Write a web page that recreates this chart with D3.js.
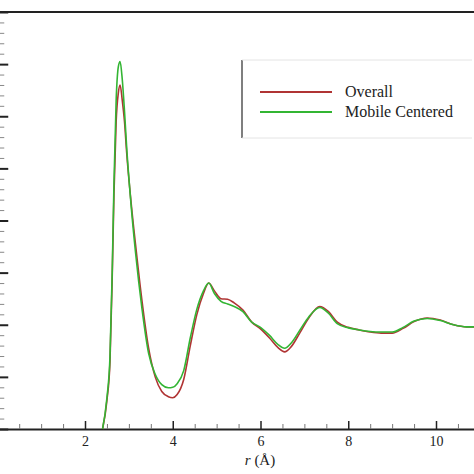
<!DOCTYPE html>
<html lang="en">
<head>
  <meta charset="UTF-8">
  <title>g(r)</title>
  <style>
    body { margin: 0; background: #fff; }
    svg { display: block; }
    text { font-family: "Liberation Serif", "DejaVu Serif", serif; fill: #222; }
  </style>
</head>
<body>
  <svg width="474" height="474"></svg>
  <script src="https://d3js.org/d3.v7.min.js"></script>
  <script>

  // radial distance r (Angstrom)
  var rValues = [2.40, 2.50, 2.57, 2.62, 2.66, 2.71, 2.76, 2.80, 2.85, 2.90, 2.95, 3.05, 3.15, 3.30,
    3.45, 3.60, 3.75, 3.90, 4.00, 4.10, 4.25, 4.40, 4.55, 4.70, 4.82, 4.95, 5.10, 5.25, 5.40, 5.60,
    5.80, 6.00, 6.20, 6.40, 6.55, 6.70, 6.90, 7.10, 7.35, 7.55, 7.75, 8.00, 8.25, 8.50, 8.75, 9.00,
    9.25, 9.50, 9.80, 10.10, 10.40, 10.70, 11.00];

  var overallG = [0, 0.55, 1.3, 2.9, 4.5, 5.9, 6.45, 6.6, 6.3, 5.9, 5.3, 4.35, 3.55, 2.45,
    1.55, 1.0, 0.72, 0.62, 0.60, 0.66, 0.95, 1.6, 2.2, 2.6, 2.8, 2.65, 2.5, 2.49, 2.42, 2.28,
    2.05, 1.92, 1.75, 1.56, 1.48, 1.58, 1.85, 2.13, 2.35, 2.25, 2.05, 1.95, 1.90, 1.86, 1.84, 1.84,
    1.93, 2.06, 2.13, 2.09, 2.00, 1.96, 1.96];

  var mobileG = [0, 0.6, 1.4, 3.0, 4.7, 6.3, 6.95, 7.05, 6.7, 6.1, 5.4, 4.3, 3.4, 2.3,
    1.45, 1.05, 0.85, 0.79, 0.80, 0.87, 1.12, 1.75, 2.3, 2.65, 2.8, 2.6, 2.45, 2.4, 2.35, 2.25,
    2.05, 1.95, 1.8, 1.62, 1.55, 1.65, 1.9, 2.15, 2.33, 2.22, 2.02, 1.94, 1.90, 1.87, 1.86, 1.86,
    1.95, 2.07, 2.12, 2.08, 2.00, 1.96, 1.96];

  var seriesNames = ['Overall', 'Mobile Centered'];
  var seriesColors = ['#b03434', '#33b533'];

  var xMajorTicks = [2, 4, 6, 8, 10];
  var yMajorTicks = [0, 1, 2, 3, 4, 5, 6, 7, 8];

  var svg = d3.select('svg');

  // plot frame is cropped on the left and right in the original
  var x = d3.scaleLinear().domain([0, 12]).range([-2.75, 523.75]);
  var y = d3.scaleLinear().domain([0, 8]).range([429, 12]);

  var xMinor = d3.range(0.5, 12, 0.5).filter(function(v) { return v % 2 !== 0; });
  var yMinor = d3.range(0.2, 8, 0.2).filter(function(v) { return Math.abs(v - Math.round(v)) > 0.01; });

  // top frame line
  svg.append('line')
    .attr('x1', 0).attr('x2', 474)
    .attr('y1', y(8)).attr('y2', y(8))
    .attr('stroke', '#222').attr('stroke-width', 2);

  // bottom axis, ticks pointing inward
  var xAxis = svg.append('g')
    .attr('transform', 'translate(0,' + y(0) + ')')
    .call(d3.axisBottom(x).tickValues(xMajorTicks).tickSize(-8).tickPadding(7).tickSizeOuter(0));
  xAxis.select('.domain').attr('stroke', '#222').attr('stroke-width', 2);
  xAxis.selectAll('.tick line').attr('stroke', '#222').attr('stroke-width', 1.5);
  xAxis.selectAll('text').style('font-size', '14px').attr('fill', '#333')
    .style('font-family', '"Liberation Serif", serif');

  svg.append('g')
    .attr('transform', 'translate(0,' + y(0) + ')')
    .call(d3.axisBottom(x).tickValues(xMinor).tickSize(-5).tickFormat('').tickSizeOuter(0))
    .call(function(g) {
      g.select('.domain').remove();
      g.selectAll('.tick line').attr('stroke', '#777').attr('stroke-width', 1);
    });

  // left axis, ticks pointing inward
  var yAxis = svg.append('g')
    .attr('transform', 'translate(' + x(0) + ',0)')
    .call(d3.axisLeft(y).tickValues(yMajorTicks).tickSize(-11).tickFormat('').tickSizeOuter(0));
  yAxis.select('.domain').attr('stroke', '#222').attr('stroke-width', 2);
  yAxis.selectAll('.tick line').attr('stroke', '#222').attr('stroke-width', 2);

  svg.append('g')
    .attr('transform', 'translate(' + x(0) + ',0)')
    .call(d3.axisLeft(y).tickValues(yMinor).tickSize(-7).tickFormat('').tickSizeOuter(0))
    .call(function(g) {
      g.select('.domain').remove();
      g.selectAll('.tick line').attr('stroke', '#888').attr('stroke-width', 1);
    });

  // axis title
  var title = svg.append('text')
    .attr('x', 260).attr('y', 465)
    .attr('text-anchor', 'middle')
    .style('font-size', '15px');
  title.append('tspan').style('font-style', 'italic').text('r');
  title.append('tspan').text(' (Å)');

  // curves
  var line = d3.line()
    .x(function(d) { return x(d[0]); })
    .y(function(d) { return y(d[1]); })
    .curve(d3.curveMonotoneX);

  [overallG, mobileG].forEach(function(vals, i) {
    svg.append('path')
      .datum(rValues.map(function(r, j) { return [r, vals[j]]; }))
      .attr('d', line)
      .attr('fill', 'none')
      .attr('stroke', seriesColors[i])
      .attr('stroke-width', 1.6)
      .attr('stroke-linejoin', 'round');
  });

  // legend
  var legend = svg.append('g');
  legend.append('line')
    .attr('x1', 242).attr('x2', 242).attr('y1', 60).attr('y2', 138)
    .attr('stroke', '#555').attr('stroke-width', 1.5);
  legend.append('line')
    .attr('x1', 242).attr('x2', 472).attr('y1', 60).attr('y2', 60)
    .attr('stroke', '#e4e4e4').attr('stroke-width', 1);
  legend.append('line')
    .attr('x1', 242).attr('x2', 472).attr('y1', 138).attr('y2', 138)
    .attr('stroke', '#e4e4e4').attr('stroke-width', 1);

  seriesNames.forEach(function(name, i) {
    var ly = 92 + i * 20;
    legend.append('line')
      .attr('x1', 260).attr('x2', 332).attr('y1', ly).attr('y2', ly)
      .attr('stroke', seriesColors[i]).attr('stroke-width', 1.8);
    legend.append('text')
      .attr('x', 345).attr('y', ly + 5)
      .style('font-size', '16px')
      .text(name);
  });

  </script>
</body>
</html>
